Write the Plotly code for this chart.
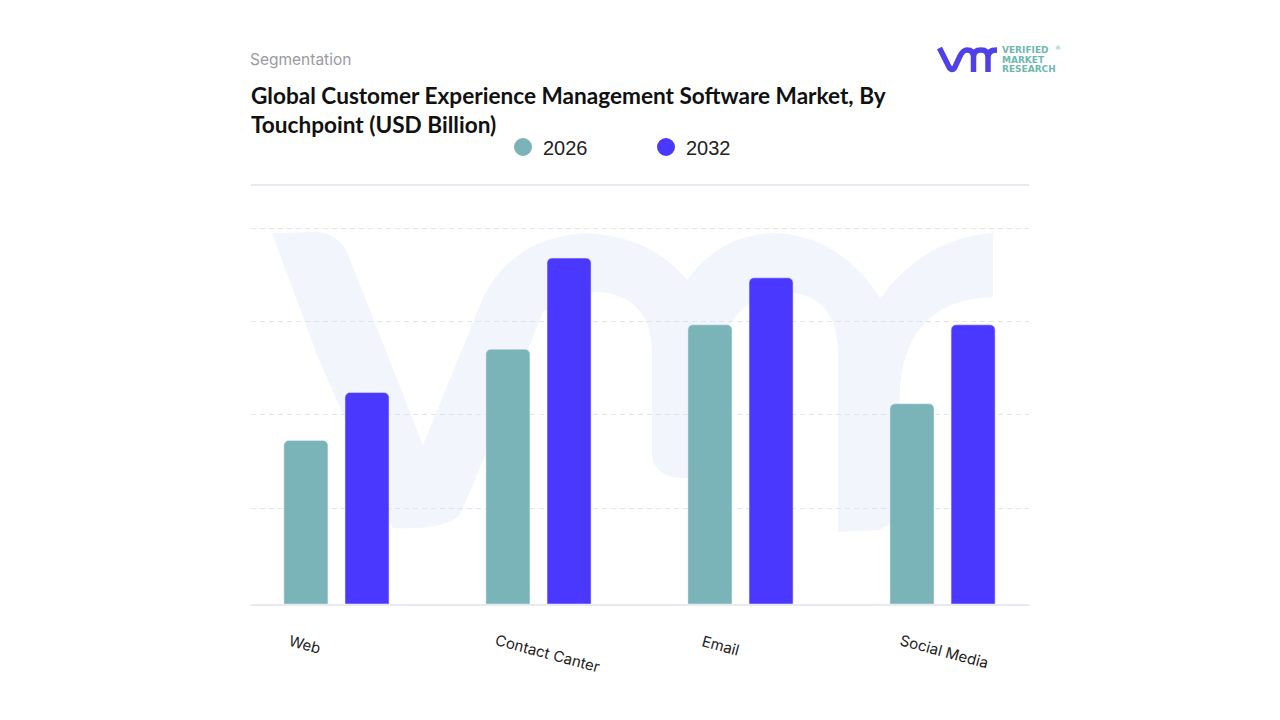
import plotly.graph_objects as go

categories = ["Web", "Contact Canter", "Email", "Social Media"]
values_2026 = [1.74, 2.71, 2.97, 2.13]
values_2032 = [2.25, 3.68, 3.47, 2.97]
years = ["2026", "2032"]
y_ticks = [0, 1.02, 2.02, 3.01, 4]
label_shift_x = [-31, 10, -20, 2]
label_shift_y = [4, -5, 3, -3]

W, H = 1280, 720
L, R, T, B = 251, 1029, 186, 604
TEAL, BLUE = "#7AB3B8", "#4B38FF"

def px(x):
    return (x - L) / (R - L)
def py(y):
    return (B - y) / (B - T)
def path(cmds):
    out = []
    for c in cmds:
        if isinstance(c, str):
            out.append(c)
        else:
            out.append(f"{px(c[0]):.5f},{py(c[1]):.5f}")
    return " ".join(out)

fig = go.Figure()
fig.add_bar(x=categories, y=values_2026, name=years[0], marker=dict(color=TEAL, cornerradius=5), showlegend=False)
fig.add_bar(x=categories, y=values_2032, name=years[1], marker=dict(color=BLUE, cornerradius=5), showlegend=False)
for yr, col in zip(years, [TEAL, BLUE]):
    fig.add_scatter(x=[None], y=[None], mode="markers", name=yr,
                    marker=dict(symbol="circle", size=16, color=col, line=dict(color=col, width=2)))

shapes = []
# faint watermark outline
wm = path(["M", (272, 233), "L", (317, 232), "Q", (338, 234), (347, 252),
           "L", (423, 445), "L", (483, 298), "Q", (510, 240), (583, 233),
           "Q", (650, 235), (687, 280), "Q", (720, 235), (773, 233),
           "Q", (840, 235), (880, 298), "Q", (925, 238), (993, 233),
           "L", (993, 297), "Q", (908, 300), (900, 385), "L", (895, 520),
           "L", (880, 530), "L", (838, 532), "L", (838, 355),
           "Q", (838, 298), (793, 293), "Q", (735, 295), (725, 340),
           "L", (722, 478), "L", (680, 478), "Q", (654, 476), (652, 455),
           "L", (652, 350), "Q", (650, 295), (597, 292), "Q", (570, 292), (543, 312),
           "L", (477, 475), "L", (460, 515), "Q", (445, 530), (393, 528),
           "L", (387, 515), "L", (317, 355), "Z"])
shapes.append(dict(type="path", xref="paper", yref="paper", path=wm, layer="between",
                   fillcolor="#F3F5FC", line=dict(width=0)))
# logo
logo = path(["M", (939.5, 48), "L", (949, 67), "Q", (952, 72), (955, 67), "L", (960, 56),
             "Q", (963, 50), (967, 50), "Q", (973.5, 50), (973.5, 57), "L", (973.5, 72),
             "M", (973.5, 57), "Q", (973.5, 50), (981, 50), "Q", (988, 50), (988, 57), "L", (988, 72),
             "M", (988, 57), "Q", (988, 50), (997, 50)])
shapes.append(dict(type="path", xref="paper", yref="paper", path=logo, layer="above",
                   line=dict(color="#5040E8", width=5.5)))
fig.update_layout(shapes=shapes)

ann = []
def text(x, y, s, size, color, family, anchor="left"):
    ann.append(dict(text=s, x=px(x), y=py(y), xref="paper", yref="paper", xanchor=anchor, yanchor="middle",
                    showarrow=False, font=dict(size=size, color=color, family=family)))
text(248, 59, "Segmentation", 15.5, "#9A9A9F", "Inter")
text(249, 95, "<b>Global Customer Experience Management Software Market, By</b>", 22.6, "#111111", "Lato")
text(249, 124, "<b>Touchpoint (USD Billion)</b>", 22.6, "#111111", "Lato")
text(1000, 50, "<b>VERIFIED</b>", 9, "#6FB8AE", "DejaVu Sans")
text(1000, 59.5, "<b>MARKET</b>", 9, "#6FB8AE", "DejaVu Sans")
text(1000, 69, "<b>RESEARCH</b>", 9, "#6FB8AE", "DejaVu Sans")
text(1053, 48, "®", 6, "#6FB8AE", "DejaVu Sans")
for cat, dx, dy in zip(categories, label_shift_x, label_shift_y):
    ann.append(dict(text=cat, x=cat, y=py(648), xref="x", yref="paper", xshift=dx, yshift=dy,
                    xanchor="center", yanchor="middle",
                    showarrow=False, textangle=15, font=dict(size=15, color="#222222", family="Inter")))
fig.update_layout(annotations=ann)

fig.update_layout(
    width=W, height=H, autosize=False,
    margin=dict(l=L, r=W - R, t=T, b=H - B, pad=0),
    paper_bgcolor="white", plot_bgcolor="white",
    barmode="group", bargap=0.395, bargroupgap=0.28,
    legend=dict(orientation="h", x=(503 - L) / (R - L), y=py(147), xanchor="left", yanchor="middle",
                entrywidth=98, entrywidthmode="pixels", itemsizing="trace", itemclick=False,
                font=dict(size=20, color="#222222", family="Liberation Sans"), bgcolor="rgba(0,0,0,0)"),
    xaxis=dict(type="category", categoryorder="array", categoryarray=categories,
               range=[-0.423, 3.428], showticklabels=False, ticks="", showgrid=False,
               showline=True, mirror=True, linecolor="#E9EAF0", linewidth=1.5, zeroline=False, fixedrange=True),
    yaxis=dict(range=[0, 4.447], tickvals=y_ticks, showticklabels=False, ticks="", zeroline=False,
               gridcolor="#E3E4E9", griddash="5px,4px", gridwidth=1, showline=False, fixedrange=True),
)
fig.write_html("out.html", config={"displayModeBar": False},
               post_script="document.body.style.margin='0';")
